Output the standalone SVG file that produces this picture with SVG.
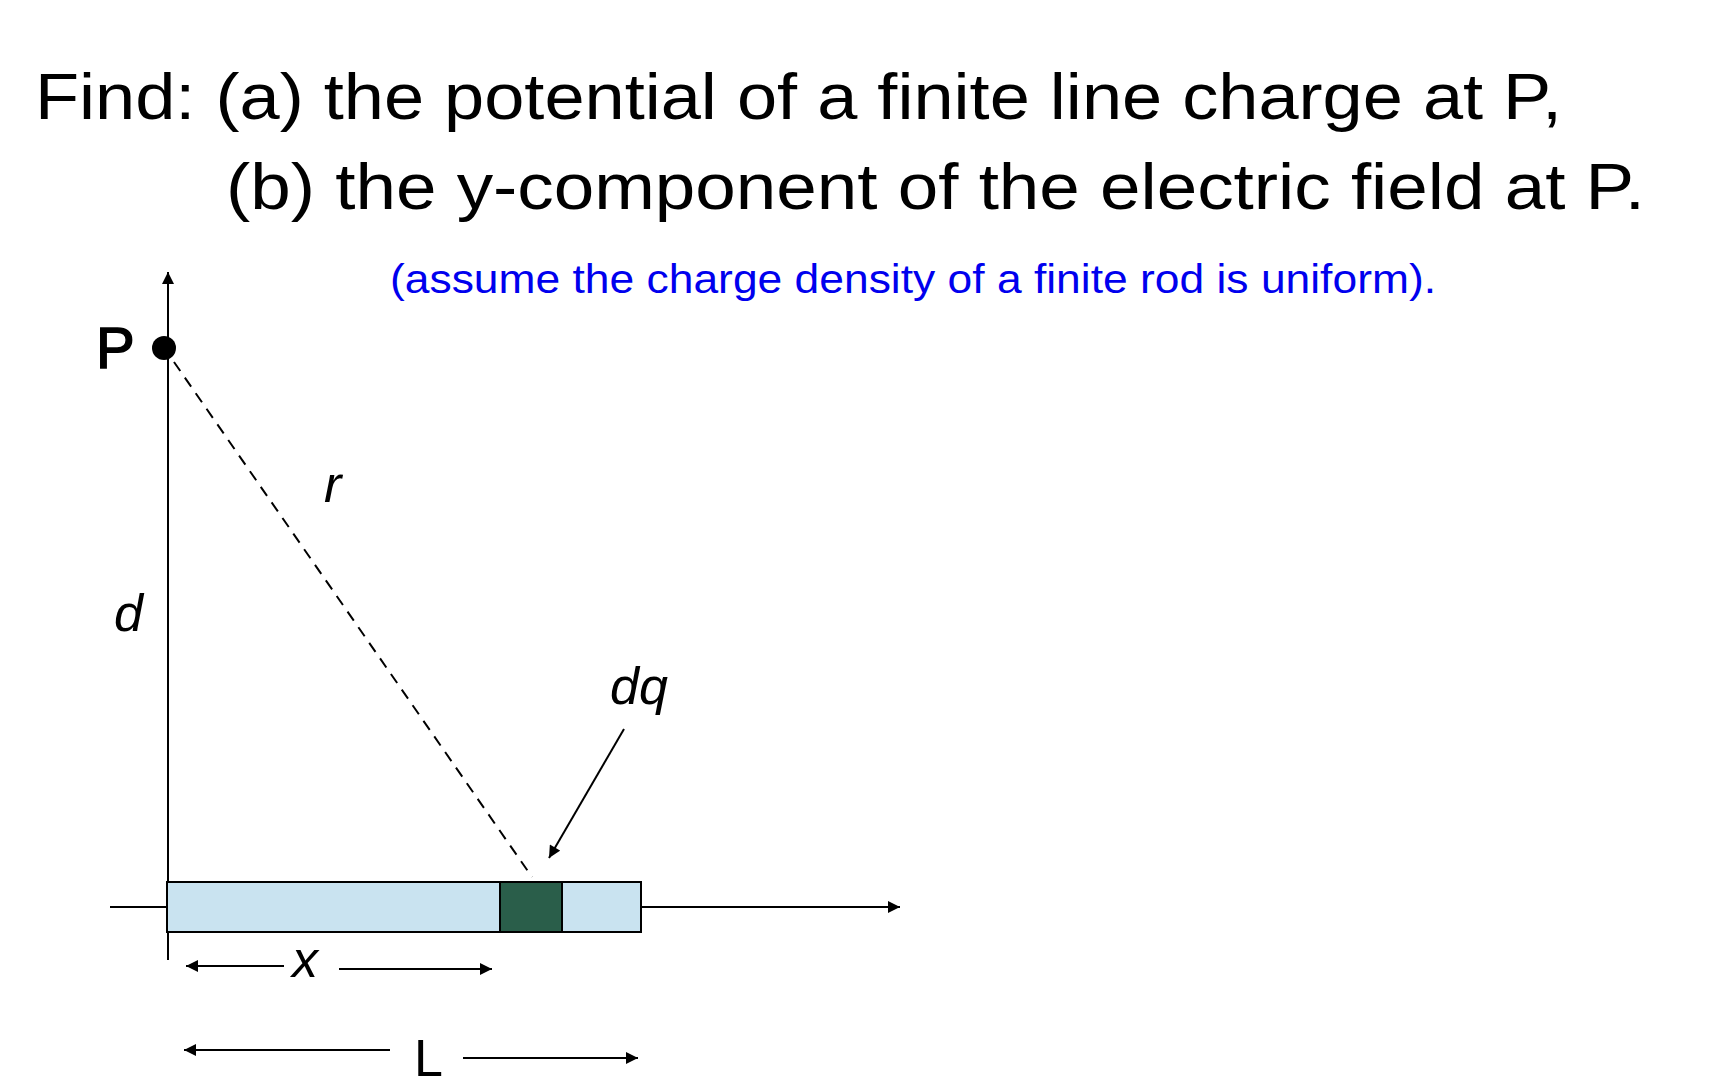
<svg xmlns="http://www.w3.org/2000/svg" width="1716" height="1090" viewBox="0 0 1716 1090">
<defs>
<marker id="ah2" viewBox="0 0 10 10" refX="10" refY="5" markerWidth="14" markerHeight="12" markerUnits="userSpaceOnUse" orient="auto-start-reverse"><path d="M0,0 L10,5 L0,10 z" fill="#000"/></marker>
</defs>
<style>
text{font-family:"Liberation Sans",Arial,sans-serif}
.t{font-size:64px;fill:#000}
.i{font-style:italic;font-size:52px}
.ln{stroke:#000;stroke-width:2;fill:none}
</style>
<rect width="1716" height="1090" fill="#fff"/>
<g id="title">
<text class="t" x="35" y="119" textLength="1527" lengthAdjust="spacingAndGlyphs">Find:  (a) the potential of a finite line charge at P,</text>
<text class="t" x="226" y="209" textLength="1419" lengthAdjust="spacingAndGlyphs">(b) the y-component of the electric field at P.</text>
<text x="390" y="293" font-size="40" fill="#0000ee" textLength="1046" lengthAdjust="spacingAndGlyphs">(assume the charge density of a finite rod is uniform).</text>
</g>
<g id="connectors">
<line class="ln" x1="168" y1="960" x2="168" y2="272" marker-end="url(#ah2)"/>
<line class="ln" x1="110" y1="907" x2="900" y2="907" marker-end="url(#ah2)"/>
<line class="ln" stroke-width="3" stroke-dasharray="11,8" x1="174" y1="362" x2="532" y2="877"/>
<line class="ln" x1="624" y1="729" x2="549" y2="858" marker-end="url(#ah2)"/>
<line class="ln" x1="284" y1="966" x2="186" y2="966" marker-end="url(#ah2)"/>
<line class="ln" x1="339" y1="969" x2="492" y2="969" marker-end="url(#ah2)"/>
<line class="ln" x1="390" y1="1050" x2="184" y2="1050" marker-end="url(#ah2)"/>
<line class="ln" x1="463" y1="1058" x2="638" y2="1058" marker-end="url(#ah2)"/>
</g>
<g id="rod">
<rect x="167" y="882" width="474" height="50" fill="#c9e3f0" stroke="#000" stroke-width="2"/>
<rect x="500" y="882" width="62" height="50" fill="#2a5e4a" stroke="#000" stroke-width="2"/>
</g>
<g id="P">
<circle cx="164" cy="348" r="12" fill="#000"/>
<text x="96" y="368" font-size="58" stroke="#000" stroke-width="1.5">P</text>
</g>
<g id="labels">
<text class="i" x="324" y="502">r</text>
<text class="i" x="114" y="631">d</text>
<text class="i" x="610" y="704">dq</text>
<text class="i" x="292" y="977">x</text>
<text x="414" y="1076" font-size="52">L</text>
</g>
</svg>
